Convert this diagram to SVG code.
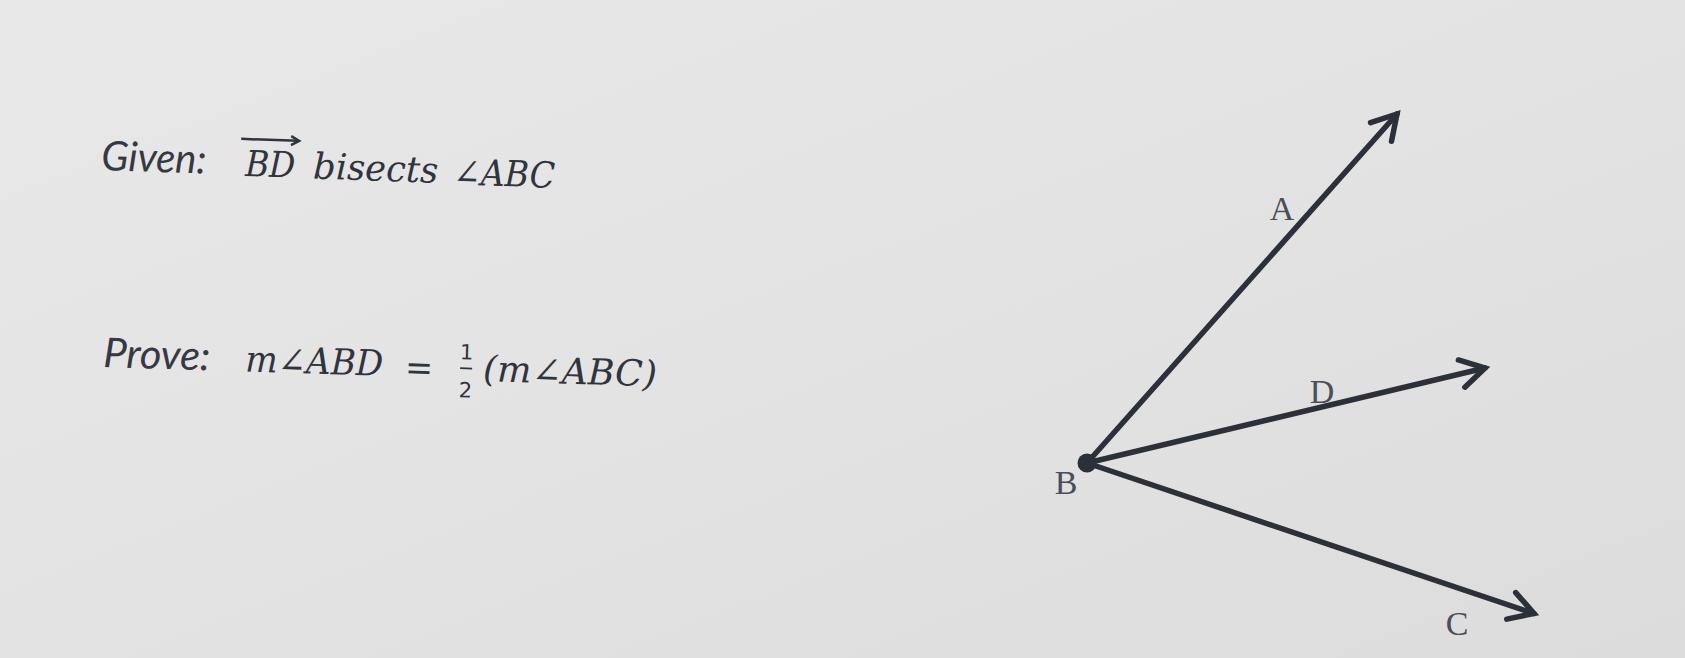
<svg xmlns="http://www.w3.org/2000/svg" width="1685" height="658" viewBox="0 0 1685 658">
  <defs>
    <linearGradient id="paper" x1="0" y1="0" x2="1" y2="1">
      <stop offset="0" stop-color="#e8e8e8"/>
      <stop offset="0.5" stop-color="#e3e3e3"/>
      <stop offset="1" stop-color="#dcdcdc"/>
    </linearGradient>
    <marker id="head" markerUnits="userSpaceOnUse" markerWidth="40" markerHeight="40" refX="0" refY="0" viewBox="-30 -20 40 40" orient="auto" overflow="visible">
      <path d="M -24 -14 L 0 0 L -24 14" fill="none" stroke="#2b3039" stroke-width="5.5" stroke-linecap="round" stroke-linejoin="miter"/>
    </marker>
    <style>
      .word { font-family: Lato, "Open Sans", "Liberation Sans", sans-serif; font-style: italic; font-size: 41px; fill: #363941; }
      .math { font-family: "DejaVu Serif", "Liberation Serif", serif; font-style: italic; font-size: 36px; fill: #30343c; }
      .up { font-family: "DejaVu Serif", "Liberation Serif", serif; font-size: 36px; fill: #30343c; }
      .digit { font-family: "DejaVu Sans", "Liberation Sans", sans-serif; font-size: 21px; fill: #30343c; text-anchor: middle; }
      .lbl { font-family: "Liberation Serif", "DejaVu Serif", serif; font-size: 34px; fill: #4a4e57; text-anchor: middle; }
      .ray { stroke: #2b3039; stroke-width: 5.5; fill: none; stroke-linecap: round; }
    </style>
  </defs>

  <rect x="0" y="0" width="1685" height="658" fill="url(#paper)"/>

  <g id="given" transform="rotate(2 101 170)">
    <text class="word" x="101" y="170" textLength="105" lengthAdjust="spacingAndGlyphs">Given:</text>
    <text class="math" x="245" y="171" font-size="35" textLength="50" lengthAdjust="spacingAndGlyphs">BD</text>
    <line x1="240" y1="134" x2="297" y2="134" stroke="#30343c" stroke-width="2.5"/>
    <path d="M 290 129.5 L 298 134 L 290 138.5" fill="none" stroke="#30343c" stroke-width="2.5" stroke-linejoin="miter"/>
    <text class="math" x="313" y="171" textLength="125" lengthAdjust="spacingAndGlyphs">bisects</text>
    <text class="math" x="453" y="172" textLength="102" lengthAdjust="spacingAndGlyphs">∠ABC</text>
  </g>

  <g id="prove" transform="rotate(1.8 103 367)">
    <text class="word" x="103" y="367" textLength="107" lengthAdjust="spacingAndGlyphs">Prove:</text>
    <text class="math" x="245" y="367" textLength="138" lengthAdjust="spacingAndGlyphs">m∠ABD</text>
    <text class="up" x="405" y="370" textLength="28" lengthAdjust="spacingAndGlyphs">=</text>
    <text class="digit" x="466" y="348">1</text>
    <line x1="460" y1="357" x2="472" y2="357" stroke="#30343c" stroke-width="1.8"/>
    <text class="digit" x="466" y="386">2</text>
    <text class="math" x="483" y="369" textLength="174" lengthAdjust="spacingAndGlyphs">(m∠ABC)</text>
  </g>

  <g id="connectors">
    <line class="ray" x1="1087" y1="463" x2="1397" y2="114" marker-end="url(#head)"/>
    <line class="ray" x1="1087" y1="463" x2="1485" y2="368" marker-end="url(#head)"/>
    <line class="ray" x1="1087" y1="463" x2="1534" y2="613.5" marker-end="url(#head)"/>
  </g>

  <g id="node-B">
    <circle cx="1087" cy="463" r="9.5" fill="#2b3039"/>
    <text class="lbl" x="1066" y="494">B</text>
  </g>
  <g id="node-A">
    <text class="lbl" x="1282" y="220">A</text>
  </g>
  <g id="node-D">
    <text class="lbl" x="1322" y="403">D</text>
  </g>
  <g id="node-C">
    <text class="lbl" x="1457" y="635">C</text>
  </g>
</svg>
